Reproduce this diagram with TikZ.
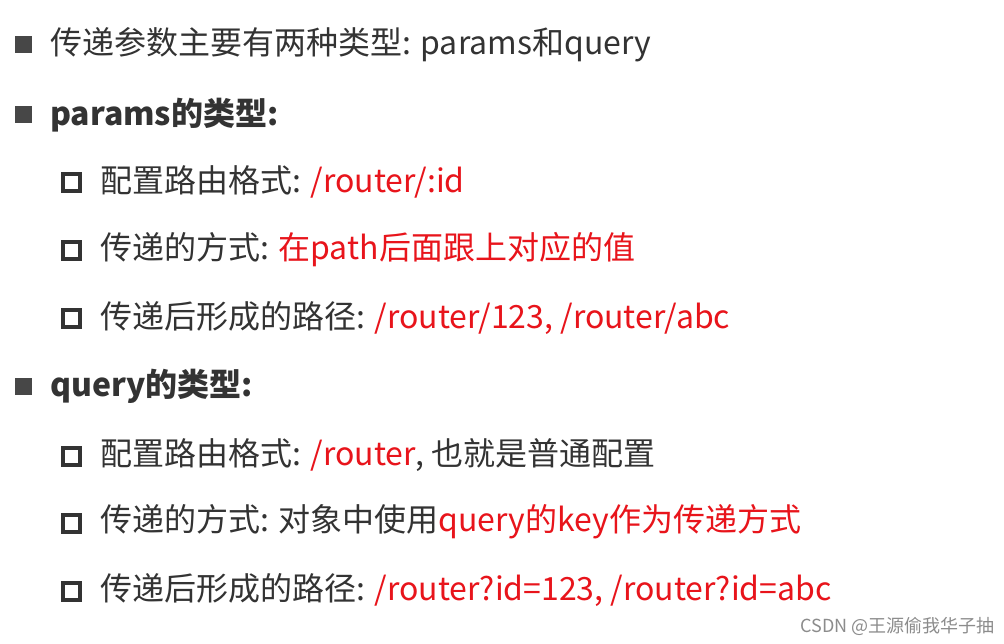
\documentclass[tikz,border=0pt]{standalone}
\usepackage{fontspec}
\setmainfont{Noto Sans CJK SC}
\definecolor{txt}{HTML}{333333}
\definecolor{rd}{HTML}{E8141B}
\begin{document}
\begin{tikzpicture}[x=1pt,y=-1pt,
  line/.style={anchor=west,inner sep=0pt,text=txt,font=\fontsize{32}{34}\selectfont},
  bfill/.style={fill=txt!90,minimum size=17pt,inner sep=0pt},
  bhol/.style={draw=txt,line width=4pt,minimum size=17pt,inner sep=0pt}]
\useasboundingbox[fill=white] (0,0) rectangle (1004,644);
\node[bfill] (b1) at (23,45) {};
\node[line] (t1) at (50,45) {传递参数主要有两种类型: params和query};
\node[bfill] (b2) at (23,115) {};
\node[line,font=\fontsize{32}{34}\selectfont\bfseries] (t2) at (50,115) {params的类型:};
\node[bhol] (b3) at (71,183) {};
\node[line] (t3) at (100,182) {配置路由格式: \textcolor{rd}{/router/:id}};
\node[bhol] (b4) at (71,251) {};
\node[line] (t4) at (100,250) {传递的方式: \textcolor{rd}{在path后面跟上对应的值}};
\node[bhol] (b5) at (71,319) {};
\node[line] (t5) at (100,318) {传递后形成的路径: \textcolor{rd}{/router/123, /router/abc}};
\node[bfill] (b6) at (23,386) {};
\node[line,font=\fontsize{32}{34}\selectfont\bfseries] (t6) at (50,386) {query的类型:};
\node[bhol] (b7) at (71,456) {};
\node[line] (t7) at (100,455) {配置路由格式: \textcolor{rd}{/router}, 也就是普通配置};
\node[bhol] (b8) at (71,523) {};
\node[line] (t8) at (100,522) {传递的方式: 对象中使用\textcolor{rd}{query的key作为传递方式}};
\node[bhol] (b9) at (71,591) {};
\node[line] (t9) at (100,590) {传递后形成的路径: \textcolor{rd}{/router?id=123, /router?id=abc}};
\node[anchor=east,inner sep=0pt,text=gray!90,font=\fontsize{18}{19}\selectfont] (wm) at (995,626) {CSDN @王源偷我华子抽};
\end{tikzpicture}
\end{document}
